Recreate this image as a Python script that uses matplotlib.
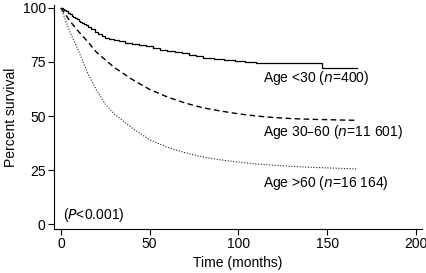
import matplotlib
matplotlib.use("Agg")
import matplotlib.pyplot as plt

plt.rcParams['font.family'] = ['Liberation Sans', 'DejaVu Sans']

# survival curves (months, percent surviving)
t_young = [0, 1, 2, 3, 4, 5, 6, 7, 8, 9, 10, 11, 12, 13, 14, 15, 17, 19, 21,
           23, 25, 27, 30, 33, 36, 40, 44, 48, 52, 56, 60, 64, 68, 72, 76, 80,
           86, 92, 98, 104, 110, 147, 167]
s_young = [100, 99.5, 99, 98.5, 97.8, 97, 96.3, 95.8, 95.3, 94.8, 94, 93.5, 93,
           92.5, 92, 91.4, 90.2, 89, 88, 87, 86, 85.6, 85, 84.5, 84, 83.5,
           82.8, 82.2, 81.3, 80.6, 80, 79.5, 79, 78.3, 77.8, 76.8, 76.5, 76,
           75.5, 75, 74.5, 72.2, 72.2]

t_mid = [0, 5, 10, 15, 20, 30, 40, 50, 60, 70, 80, 90, 100, 110, 120, 130,
         140, 150, 160, 167]
s_mid = [100, 94, 89, 84.5, 79.5, 72.5, 67, 62.3, 58.8, 56, 53.8, 52.3, 51, 50,
         49.3, 48.8, 48.5, 48.3, 48.1, 48]

t_old = [0, 5, 10, 15, 20, 25, 30, 40, 50, 60, 70, 80, 90, 100, 110, 120, 130,
         140, 150, 167]
s_old = [100, 89, 80, 70, 62, 55.5, 51, 44.5, 39, 35.5, 33, 31, 29.7, 28.7,
         27.8, 27.2, 26.7, 26.3, 26, 25.5]

labels = ["Age <30 ($n$=400)", "Age 30\u201360 ($n$=11 601)", "Age >60 ($n$=16 164)"]
label_y = [67.5, 42.5, 19]

fig = plt.figure(figsize=(4.27, 2.73), dpi=100)
ax = fig.add_axes([0.1265, 0.161, 0.8615, 0.821])

ax.plot(t_young, s_young, color='black', lw=0.9, drawstyle='steps-post')
ax.plot(t_mid, s_mid, color='black', lw=1.0, linestyle=(0, (4, 2.5)))
ax.plot(t_old, s_old, color='#222222', lw=0.8, linestyle=(0, (1, 1.5)))

for lab, y in zip(labels, label_y):
    ax.text(114, y, lab, fontsize=10, va='center', ha='left')
ax.text(1, 4, "($P$<0.001)", fontsize=10, va='center', ha='left')

ax.set_xlim(-3.9, 203.4)
ax.set_ylim(-2.3, 101.4)
ax.set_xticks([0, 50, 100, 150, 200])
ax.set_yticks([0, 25, 50, 75, 100])
ax.tick_params(labelsize=10, length=4, width=0.8, pad=2, direction='out')
ax.spines['top'].set_visible(False)
ax.spines['right'].set_visible(False)
ax.spines['left'].set_linewidth(0.8)
ax.spines['bottom'].set_linewidth(0.8)
ax.set_xlabel("Time (months)", fontsize=10, labelpad=3)
ax.set_ylabel("Percent survival", fontsize=10, labelpad=3)

fig.savefig("out.png", dpi=100)
